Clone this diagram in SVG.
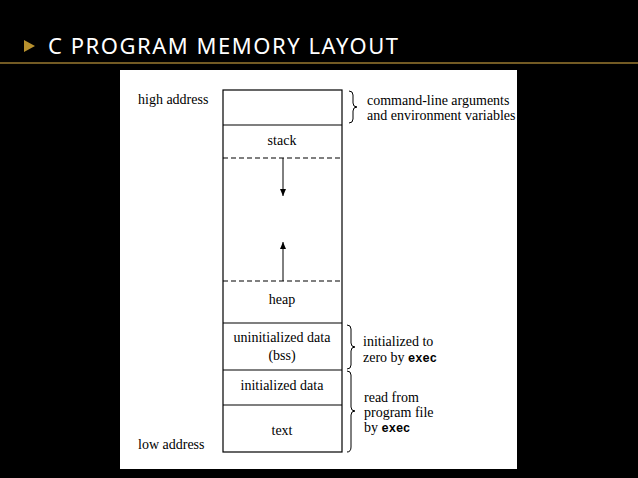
<svg xmlns="http://www.w3.org/2000/svg" width="638" height="478" viewBox="0 0 638 478">
<style>
.t{font-family:'Liberation Serif','Times New Roman','DejaVu Serif',serif;font-size:14px;fill:#000}
.c{text-anchor:middle}
.m{font-family:'Liberation Mono','DejaVu Sans Mono',monospace;font-weight:bold;font-size:12px}
.b{fill:none;stroke:#000;stroke-width:1.2}
.br{fill:none;stroke:#000;stroke-width:1}
</style>
<defs><marker id="ah" markerWidth="7" markerHeight="6" refX="7" refY="3" orient="auto" markerUnits="userSpaceOnUse"><path d="M0,0 L7,3 L0,6 z" fill="#000"/></marker></defs>
<rect width="638" height="478" fill="#000"/>
<g id="title">
<polygon points="24,40 35,46 24,52" fill="#b8912e"/>
<text x="48" y="54" font-family="Noto Sans,sans-serif" font-size="22" fill="#fff" textLength="350">C PROGRAM MEMORY LAYOUT</text>
<line x1="0" y1="63" x2="638" y2="63" stroke="#9a7a30" stroke-width="1.5"/>
</g>
<rect x="120" y="70" width="397" height="399" fill="#fff"/>
<g id="memory">
<rect x="223" y="90" width="119" height="362" class="b"/>
<line x1="223" y1="125" x2="342" y2="125" class="b"/>
<line x1="223" y1="158" x2="342" y2="158" class="b" stroke-dasharray="5,3"/>
<line x1="223" y1="281" x2="342" y2="281" class="b" stroke-dasharray="5,3"/>
<line x1="223" y1="323" x2="342" y2="323" class="b"/>
<line x1="223" y1="370" x2="342" y2="370" class="b"/>
<line x1="223" y1="405" x2="342" y2="405" class="b"/>
</g>
<g id="connectors">
<line x1="283" y1="158" x2="283" y2="196" stroke="#000" marker-end="url(#ah)"/>
<line x1="283" y1="281" x2="283" y2="242" stroke="#000" marker-end="url(#ah)"/>
</g>
<g id="labels" font-family="Liberation Serif, DejaVu Serif, serif">
<text x="138" y="104" class="t">high address</text>
<text x="138" y="449" class="t">low address</text>
<text x="282" y="145" class="t c">stack</text>
<text x="282" y="304" class="t c">heap</text>
<text x="282" y="342" class="t c">uninitialized data</text>
<text x="282" y="360" class="t c">(bss)</text>
<text x="282" y="390" class="t c">initialized data</text>
<text x="282" y="435" class="t c">text</text>
</g>
<g id="braces">
<path class="br" d="M349,91 Q353,91 353,95 L353,103 Q353,107 357,107 Q353,107 353,111 L353,119 Q353,123 349,123"/>
<path class="br" d="M347,325 Q351,325 351,329 L351,343 Q351,347 355,347 Q351,347 351,351 L351,365 Q351,369 347,369"/>
<path class="br" d="M347,371 Q351,371 351,375 L351,407 Q351,411 355,411 Q351,411 351,415 L351,447 Q351,452 347,452"/>
<text x="367" y="105" class="t" font-size="12.5">command-line arguments</text>
<text x="367" y="120" class="t" font-size="12.5">and environment variables</text>
<text x="363" y="346" class="t" font-size="13">initialized to</text>
<text x="363" y="362" class="t" font-size="13">zero by <tspan class="m">exec</tspan></text>
<text x="364" y="402" class="t" font-size="13">read from</text>
<text x="364" y="417" class="t" font-size="13">program file</text>
<text x="364" y="432" class="t" font-size="13">by <tspan class="m">exec</tspan></text>
</g>
</svg>
